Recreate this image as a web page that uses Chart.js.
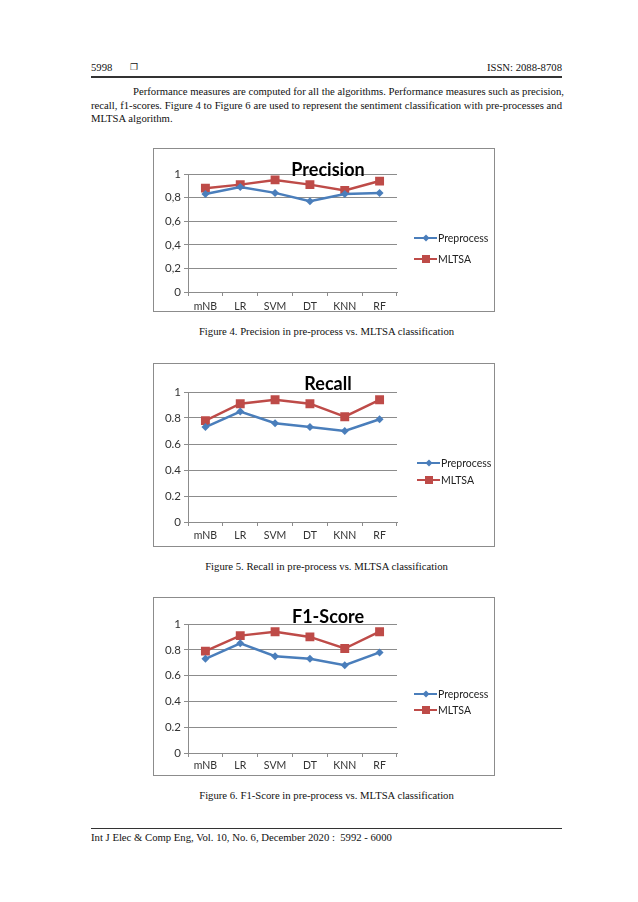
<!DOCTYPE html>
<html>
<head>
<meta charset="utf-8">
<script src="https://cdn.jsdelivr.net/npm/chart.js@4.4.0/dist/chart.umd.min.js"></script>
<style>
  html, body { margin: 0; padding: 0; background: #fff; }
  body { width: 638px; height: 902px; position: relative; overflow: hidden; font-family: "Liberation Serif", "Times New Roman", serif; color: #111; }
  .abs { position: absolute; white-space: nowrap; }
  .serif { font-size: 10.7px; line-height: 12px; }
  .rule { position: absolute; left: 91px; width: 471px; background: #333; }
  .line { position: absolute; left: 91px; width: 471px; text-align: justify; text-align-last: justify; white-space: nowrap; }
  .line.last { text-align-last: left; }
  .box { position: absolute; left: 153px; width: 342px; border: 1px solid #8c8c8c; box-sizing: border-box; background: #fff; }
  .box canvas { position: absolute; left: 0; top: 0; }
  .ctitle { position: absolute; transform: translate(-50%, -50%); font-family: Lato, "Open Sans", sans-serif; font-weight: 700; font-size: 18px; color: #000; white-space: nowrap; }
  .leg { position: absolute; font-family: Lato, "Open Sans", sans-serif; font-size: 10.5px; color: #222; white-space: nowrap; transform: translateY(-50%); display: flex; align-items: center; }
  .sym { position: relative; width: 23px; height: 2.5px; margin-right: 1px; }
  .sym i { position: absolute; left: 50%; top: 50%; }
  .sym.pre { background: #4a7ebb; }
  .sym.pre i { width: 5px; height: 5px; background: #4a7ebb; transform: translate(-50%, -50%) rotate(45deg); }
  .sym.ml { background: #be4b48; }
  .sym.ml i { width: 8px; height: 8px; background: #be4b48; transform: translate(-50%, -50%); }
</style>
</head>
<body>
<div class="abs serif" style="left:91px; top:61px;">5998</div>
<div class="abs" style="left:130px; top:61px; font-family:'DejaVu Sans'; font-size:9px; line-height:12px;">&#10064;</div>
<div class="abs serif" style="left:486px; top:61px; width:76px; text-align:right;">ISSN: 2088-8708</div>
<div class="rule" style="top:76px; height:1.5px;"></div>

<div class="line serif" style="top:85px; left:133px; width:429px;">Performance measures are computed for all the algorithms. Performance measures such as precision,</div>
<div class="line serif" style="top:98.5px;">recall, f1-scores. Figure 4 to Figure 6 are used to represent the sentiment classification with pre-processes and</div>
<div class="line serif last" style="top:112px;">MLTSA algorithm.</div>

<div class="box" id="box1" style="top:148px; height:164px;">
  <canvas id="c1"></canvas>
  <div class="ctitle" style="left:174px; top:20px;">Precision</div>
  <div class="leg" style="left:260px; top:89px;"><span class="sym pre"><i></i></span>Preprocess</div>
  <div class="leg" style="left:260px; top:110px;"><span class="sym ml"><i></i></span>MLTSA</div>
</div>
<div class="abs serif" style="left:0; width:653px; text-align:center; top:325px;">Figure 4. Precision in pre-process vs. MLTSA classification</div>

<div class="box" id="box2" style="top:363px; height:184px;">
  <canvas id="c2"></canvas>
  <div class="ctitle" style="left:174px; top:19px;">Recall</div>
  <div class="leg" style="left:263px; top:99px;"><span class="sym pre"><i></i></span>Preprocess</div>
  <div class="leg" style="left:263px; top:116px;"><span class="sym ml"><i></i></span>MLTSA</div>
</div>
<div class="abs serif" style="left:0; width:653px; text-align:center; top:560px;">Figure 5. Recall in pre-process vs. MLTSA classification</div>

<div class="box" id="box3" style="top:597px; height:179px;">
  <canvas id="c3"></canvas>
  <div class="ctitle" style="left:174px; top:18px;">F1-Score</div>
  <div class="leg" style="left:260px; top:96px;"><span class="sym pre"><i></i></span>Preprocess</div>
  <div class="leg" style="left:260px; top:112px;"><span class="sym ml"><i></i></span>MLTSA</div>
</div>
<div class="abs serif" style="left:0; width:653px; text-align:center; top:789px;">Figure 6. F1-Score in pre-process vs. MLTSA classification</div>

<div class="rule" style="top:828px; height:1px;"></div>
<div class="abs serif" style="left:91px; top:831px;">Int J Elec &amp; Comp Eng, Vol. 10, No. 6, December 2020 :&nbsp; 5992 - 6000</div>

<script>
// algorithms on the x axis
const categories = ['mNB', 'LR', 'SVM', 'DT', 'KNN', 'RF'];

// Figure 4 - precision
const precisionPreprocess = [0.83, 0.89, 0.84, 0.77, 0.83, 0.84];
const precisionMltsa = [0.88, 0.91, 0.95, 0.91, 0.86, 0.94];

// Figure 5 - recall
const recallPreprocess = [0.73, 0.85, 0.76, 0.73, 0.70, 0.79];
const recallMltsa = [0.78, 0.91, 0.94, 0.91, 0.81, 0.94];

// Figure 6 - f1-score
const f1Preprocess = [0.73, 0.85, 0.75, 0.73, 0.68, 0.78];
const f1Mltsa = [0.79, 0.91, 0.94, 0.90, 0.81, 0.94];

// y tick labels (first chart uses decimal commas)
const yTicksComma = ['0', '0,2', '0,4', '0,6', '0,8', '1'];
const yTicksDot = ['0', '0.2', '0.4', '0.6', '0.8', '1'];

const BLUE = '#4a7ebb';
const RED = '#be4b48';
const GRID = '#8c8c8c';
const FONT = 'Lato, "Open Sans", sans-serif';

function canvasSize(id, w, h) {
    const c = document.getElementById(id);
    c.width = w;
    c.height = h;
}

// builds one chart; area = plot rectangle inside the canvas
const makeChart = (id, w, h, area, pre, mltsa, yLabels, xPad) => {
    const canvas = document.getElementById(id);
    canvas.style.width = w + 'px';
    canvas.style.height = h + 'px';
    return new Chart(canvas.getContext('2d'), {
        type: 'line',
        data: {
            labels: categories,
            datasets: [
                {
                    label: 'Preprocess',
                    data: pre,
                    borderColor: BLUE,
                    backgroundColor: BLUE,
                    borderWidth: 2.5,
                    pointStyle: 'rectRot',
                    pointRadius: 4,
                    pointBorderWidth: 0,
                    tension: 0
                },
                {
                    label: 'MLTSA',
                    data: mltsa,
                    borderColor: RED,
                    backgroundColor: RED,
                    borderWidth: 2.5,
                    pointStyle: 'rect',
                    pointRadius: 6.3,
                    pointBorderWidth: 0,
                    tension: 0
                }
            ]
        },
        options: {
            responsive: false,
            animation: false,
            layout: {
                autoPadding: false,
                padding: { left: 0, top: area.top, right: w - area.right, bottom: 0 }
            },
            plugins: {
                legend: { display: false },
                title: { display: false },
                tooltip: { enabled: false }
            },
            scales: {
                x: {
                    offset: true,
                    grid: { display: true, offset: true, drawOnChartArea: false, drawTicks: true, tickLength: 4, color: GRID },
                    border: { display: true, color: GRID, width: 1 },
                    ticks: { color: '#333', padding: xPad, font: { family: FONT, size: 10.5 }, maxRotation: 0 },
                    afterFit: (s) => { s.height = h - area.bottom; }
                },
                y: {
                    min: 0,
                    max: 1,
                    grid: { color: GRID, drawTicks: true, tickLength: 4 },
                    border: { display: true, color: GRID, width: 1 },
                    ticks: {
                        stepSize: 0.2,
                        color: '#333',
                        padding: 3,
                        font: { family: FONT, size: 11.5 },
                        callback: (v, i) => yLabels[i]
                    },
                    afterFit: (s) => { s.width = area.left; }
                }
            }
        }
    });
};

const sizeOf = (id) => {
    const b = document.getElementById(id);
    return [b.clientWidth, b.clientHeight];
};

let [w1, h1] = sizeOf('box1');
canvasSize('c1', w1, h1);
makeChart('c1', w1, h1, { left: 34, top: 25, right: 243, bottom: 143 }, precisionPreprocess, precisionMltsa, yTicksComma, 4);

let [w2, h2] = sizeOf('box2');
canvasSize('c2', w2, h2);
makeChart('c2', w2, h2, { left: 34, top: 28, right: 243, bottom: 158 }, recallPreprocess, recallMltsa, yTicksDot, 3);

let [w3, h3] = sizeOf('box3');
canvasSize('c3', w3, h3);
makeChart('c3', w3, h3, { left: 34, top: 26, right: 243, bottom: 155 }, f1Preprocess, f1Mltsa, yTicksDot, 2.5);
</script>
</body>
</html>
